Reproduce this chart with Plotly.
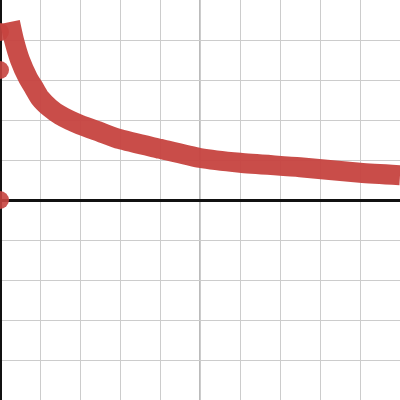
import plotly.graph_objects as go

# curve
curve_x = [0.25, 0.35, 0.5, 0.7, 0.85, 1.0, 1.25, 1.5, 2.0, 2.5, 3.0, 4.0, 5.0, 6.0, 7.5, 9.0, 10.0]
curve_y = [4.45, 4.0, 3.5, 3.05, 2.8, 2.55, 2.3, 2.12, 1.88, 1.7, 1.52, 1.28, 1.05, 0.93, 0.82, 0.68, 0.62]
point_x = [0, 0, 0]
point_y = [4.2, 3.25, 0]

red = "#c74440"

fig = go.Figure()
fig.add_trace(go.Scatter(x=curve_x, y=curve_y, mode="lines", line=dict(color=red, width=20, shape="spline", smoothing=0.6),
                         opacity=0.95, hoverinfo="skip"))
fig.add_trace(go.Scatter(x=point_x, y=point_y, mode="markers", marker=dict(color=red, size=18),
                         opacity=0.9, hoverinfo="skip"))

# darker line at x=5
fig.add_vline(x=5, line=dict(color="#777777", width=1), layer="below")

fig.update_layout(
    width=400, height=400, margin=dict(l=0, r=0, t=0, b=0),
    plot_bgcolor="white", paper_bgcolor="white", showlegend=False,
    xaxis=dict(range=[0, 10], dtick=1, showticklabels=False, gridcolor="#cccccc",
               zeroline=True, zerolinecolor="#111111", zerolinewidth=4, fixedrange=True),
    yaxis=dict(range=[-5, 5], dtick=1, showticklabels=False, gridcolor="#cccccc",
               zeroline=True, zerolinecolor="#111111", zerolinewidth=3, fixedrange=True),
)
fig.write_html("out.html", config=dict(displayModeBar=False),
               post_script="document.body.style.margin='0';document.body.style.overflow='hidden';")
